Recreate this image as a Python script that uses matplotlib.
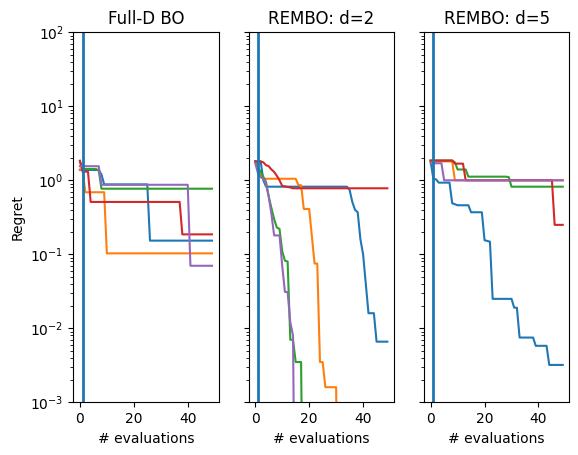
import numpy as np
import matplotlib
matplotlib.use("Agg")
import matplotlib.pyplot as plt

titles = ["Full-D BO", "REMBO: d=2", "REMBO: d=5"]
n_evals = 50
marker_x = 1

# Vertices (evaluation, regret); straight segments between them.
# Full-D BO
full_blue_x = [0, 7, 8, 9, 25, 26, 49]
full_blue_y = [1.38, 1.38, 1.2, 0.88, 0.88, 0.153, 0.153]
full_orange_x = [0, 1, 2, 9, 10, 49]
full_orange_y = [1.4, 1.4, 0.69, 0.69, 0.103, 0.103]
full_green_x = [0, 1, 6, 7, 8, 49]
full_green_y = [1.8, 1.42, 1.42, 1.35, 0.77, 0.77]
full_red_x = [0, 1, 3, 4, 37, 38, 49]
full_red_y = [1.84, 1.31, 1.31, 0.51, 0.51, 0.186, 0.186]
full_purple_x = [0, 7, 8, 40, 41, 49]
full_purple_y = [1.55, 1.55, 0.87, 0.87, 0.07, 0.07]

# REMBO d=2
d2_blue_x = [0, 2, 3, 4, 34, 35, 36, 37, 38, 39, 40, 41, 42, 44, 45, 49]
d2_blue_y = [1.8, 1.8, 1.0, 0.82, 0.82, 0.74, 0.51, 0.40, 0.37, 0.16, 0.10, 0.04,
             0.016, 0.016, 0.0066, 0.0066]
d2_orange_x = [0, 1, 2, 3, 15, 16, 17, 18, 20, 22, 23, 24, 25, 26, 30, 31, 49]
d2_orange_y = [1.8, 1.4, 1.15, 1.05, 1.05, 0.86, 0.86, 0.41, 0.41, 0.075, 0.075,
               0.0035, 0.0035, 0.0016, 0.0016, 1e-6, 1e-6]
d2_green_x = [0, 1, 2, 4, 5, 6, 7, 8, 9, 10, 11, 12, 13, 14, 15, 17, 18, 49]
d2_green_y = [1.8, 1.5, 1.3, 0.95, 0.6, 0.42, 0.3, 0.23, 0.22, 0.11, 0.082, 0.08,
              0.007, 0.007, 0.0035, 0.0035, 1e-6, 1e-6]
d2_red_x = [0, 2, 3, 4, 5, 6, 7, 8, 9, 10, 13, 14, 49]
d2_red_y = [1.8, 1.8, 1.75, 1.6, 1.55, 1.4, 1.3, 1.15, 1.0, 0.84, 0.8, 0.78, 0.78]
d2_purple_x = [0, 1, 2, 3, 4, 5, 6, 7, 9, 10, 11, 12, 13, 14, 15, 49]
d2_purple_y = [1.7, 1.25, 1.1, 1.05, 0.9, 0.6, 0.35, 0.18, 0.18, 0.07, 0.031, 0.031,
               0.012, 0.008, 1e-6, 1e-6]

# REMBO d=5
d5_blue_x = [0, 1, 2, 3, 7, 8, 10, 14, 15, 19, 20, 22, 23, 30, 31, 32, 33, 38, 39,
             43, 44, 49]
d5_blue_y = [1.8, 1.05, 1.03, 0.93, 0.93, 0.49, 0.46, 0.46, 0.37, 0.37, 0.155, 0.148,
             0.025, 0.025, 0.019, 0.019, 0.0075, 0.0075, 0.0058, 0.0058, 0.0032, 0.0032]
d5_orange_x = [0, 8, 9, 49]
d5_orange_y = [1.8, 1.8, 1.0, 1.0]
d5_green_x = [0, 8, 9, 10, 13, 14, 28, 29, 30, 49]
d5_green_y = [1.85, 1.85, 1.75, 1.4, 1.4, 1.12, 1.12, 1.1, 0.82, 0.82]
d5_red_x = [0, 8, 9, 12, 13, 45, 46, 49]
d5_red_y = [1.85, 1.85, 1.68, 1.68, 1.0, 1.0, 0.25, 0.25]
d5_purple_x = [0, 4, 5, 49]
d5_purple_y = [1.7, 1.7, 1.0, 1.0]

panels = [
    [(full_blue_x, full_blue_y), (full_orange_x, full_orange_y), (full_green_x, full_green_y),
     (full_red_x, full_red_y), (full_purple_x, full_purple_y)],
    [(d2_blue_x, d2_blue_y), (d2_orange_x, d2_orange_y), (d2_green_x, d2_green_y),
     (d2_red_x, d2_red_y), (d2_purple_x, d2_purple_y)],
    [(d5_blue_x, d5_blue_y), (d5_orange_x, d5_orange_y), (d5_green_x, d5_green_y),
     (d5_red_x, d5_red_y), (d5_purple_x, d5_purple_y)],
]

fig, axes = plt.subplots(1, 3, figsize=(5.78, 4.55), dpi=100, sharey=True)
fig.subplots_adjust(left=0.1268, right=0.985, bottom=0.1158, top=0.929, wspace=0.207)

for ax, title, curves in zip(axes, titles, panels):
    for xs, ys in curves:
        ax.plot(xs, ys)
    ax.axvline(marker_x, lw=2)
    ax.set_yscale("log")
    ax.set_ylim(1e-3, 1e2)
    ax.set_xlim(-2.45, n_evals - 1 + 2.45)
    ax.set_title(title)
    ax.set_xlabel("# evaluations")

axes[0].set_ylabel("Regret")

plt.savefig("out.png", dpi=100)
